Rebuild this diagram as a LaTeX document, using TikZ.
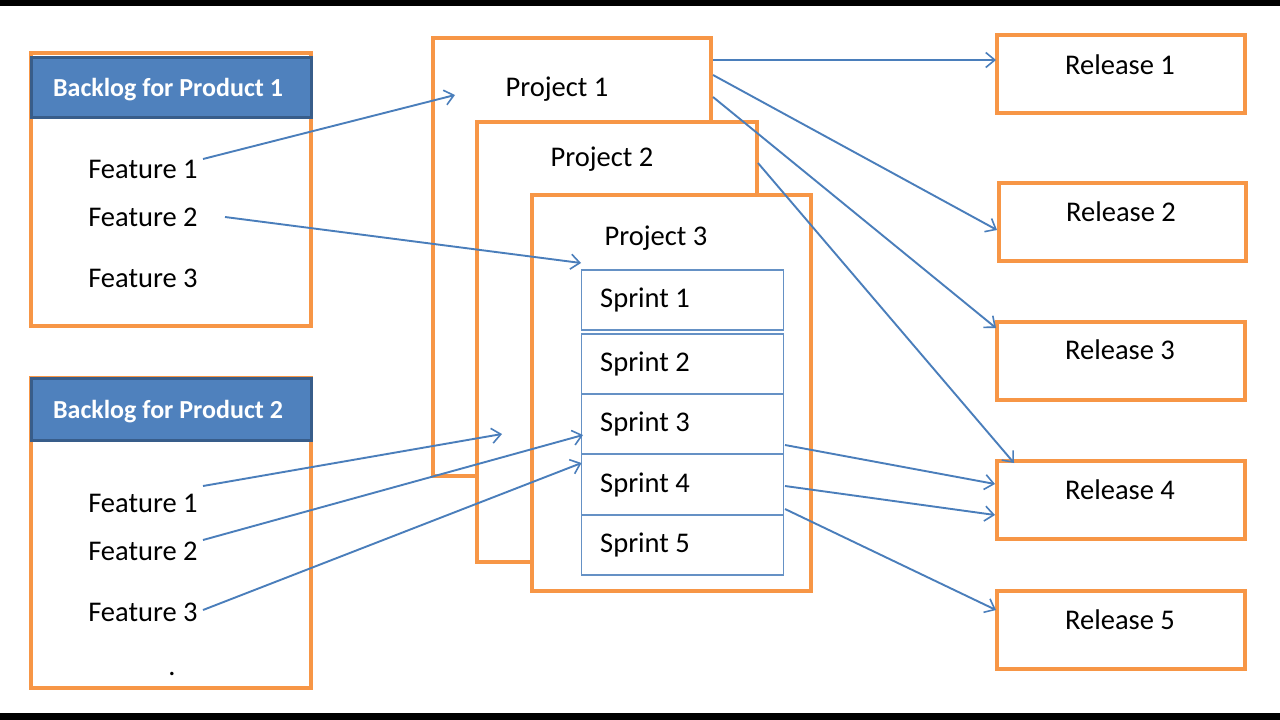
\documentclass[tikz,border=0pt]{standalone}
\usepackage{fontspec}
\setmainfont{Carlito}
\usetikzlibrary{arrows.meta}
\definecolor{orng}{HTML}{F79646}
\definecolor{blu}{HTML}{4A7EBB}
\definecolor{hdrfill}{HTML}{4F81BD}
\definecolor{hdrline}{HTML}{385D8A}
\tikzset{
  obox/.style={draw=orng, line width=4.5pt, fill=white, anchor=north west, inner sep=0pt, outer sep=0pt},
  hdr/.style={draw=hdrline, line width=3pt, fill=hdrfill, anchor=north west, inner sep=0pt, outer sep=0pt},
  sbox/.style={draw=blu!85, line width=1.3pt, fill=white, anchor=north west, inner sep=0pt, outer sep=0pt, minimum width=202pt},
  txt/.style={anchor=base, inner sep=0pt, font=\fontsize{28.5}{34}\selectfont},
  htxt/.style={anchor=base, inner sep=0pt, text=white, font=\fontsize{26}{31}\selectfont\bfseries},
  conn/.style={draw=blu, line width=1.9pt, -{Straight Barb[length=9pt,width=15pt,line width=1.6pt]}}
}
\begin{document}
\begin{tikzpicture}[x=1pt,y=-1pt]
\useasboundingbox (0,0) rectangle (1280,720);
\fill[white] (0,0) rectangle (1280,720);
\fill[black] (0,0) rectangle (1280,6);
\fill[black] (0,713) rectangle (1280,720);

% Backlog 1
\node[obox, minimum width=280pt, minimum height=273pt] (b1) at (31,53) {};
\node[hdr, minimum width=280pt, minimum height=60pt] (h1) at (31.5,57) {};
\node[htxt] (h1t) at (168,96) {Backlog for Product 1};
\node[txt] (f11) at (143,178) {Feature 1};
\node[txt] (f12) at (143,226) {Feature 2};
\node[txt] (f13) at (143,287) {Feature 3};

% Backlog 2
\node[obox, minimum width=280pt, minimum height=310pt] (b2) at (31,378) {};
\node[hdr, minimum width=280pt, minimum height=62pt] (h2) at (31.5,378) {};
\node[htxt] (h2t) at (168,418) {Backlog for Product 2};
\node[txt] (f21) at (143,512) {Feature 1};
\node[txt] (f22) at (143,560) {Feature 2};
\node[txt] (f23) at (143,621) {Feature 3};
\node[txt] (dot) at (172,675) {.};

% Projects
\node[obox, minimum width=278pt, minimum height=438pt] (p1) at (433,38) {};
\node[txt] (p1t) at (557,96) {Project 1};
\node[obox, minimum width=280pt, minimum height=440pt] (p2) at (477,122) {};
\node[txt] (p2t) at (602,166) {Project 2};
\node[obox, minimum width=279pt, minimum height=396pt] (p3) at (532,195) {};
\node[txt] (p3t) at (656,245) {Project 3};

% Sprints
\node[sbox, minimum height=60pt] (s1) at (581.5,270) {};
\node[sbox, minimum height=60pt] (s2) at (581.5,334) {};
\node[sbox, minimum height=60pt] (s3) at (581.5,394) {};
\node[sbox, minimum height=61pt] (s4) at (581.5,454) {};
\node[sbox, minimum height=60pt] (s5) at (581.5,515) {};
\node[txt, anchor=base west] (s1t) at (600,307) {Sprint 1};
\node[txt, anchor=base west] (s2t) at (600,371) {Sprint 2};
\node[txt, anchor=base west] (s3t) at (600,431) {Sprint 3};
\node[txt, anchor=base west] (s4t) at (600,492) {Sprint 4};
\node[txt, anchor=base west] (s5t) at (600,552) {Sprint 5};

% Releases
\node[obox, minimum width=248pt, minimum height=78pt] (r1) at (997,35) {};
\node[obox, minimum width=247pt, minimum height=78pt] (r2) at (999,183) {};
\node[obox, minimum width=248pt, minimum height=78pt] (r3) at (997,322) {};
\node[obox, minimum width=248pt, minimum height=78pt] (r4) at (997,461) {};
\node[obox, minimum width=248pt, minimum height=78pt] (r5) at (997,591) {};
\node[txt] (r1t) at (1120,74) {Release 1};
\node[txt] (r2t) at (1121,221) {Release 2};
\node[txt] (r3t) at (1120,359) {Release 3};
\node[txt] (r4t) at (1120,499) {Release 4};
\node[txt] (r5t) at (1120,629) {Release 5};

% Connectors: features to projects / sprints
\draw[conn] ([shift={(60,-19)}]f11.base) -- ([shift={(22,57)}]p1.north west);
\draw[conn] ([shift={(82,-9)}]f12.base) -- ([shift={(49,68)}]p3.north west);
\draw[conn] ([shift={(60,-26)}]f21.base) -- ([shift={(25,312)}]p2.north west);
\draw[conn] ([shift={(60,-20)}]f22.base) -- ([shift={(1.5,41)}]s3.north west);
\draw[conn] ([shift={(60,-11)}]f23.base) -- ([shift={(0,9)}]s4.north west);

% Connectors: projects / sprints to releases
\draw[conn] ([shift={(2,22)}]p1.north east) -- ([shift={(-1,25)}]r1.north west);
\draw[conn] ([shift={(2,37)}]p1.north east) -- ([shift={(-2,47)}]r2.north west);
\draw[conn] ([shift={(2,59)}]p1.north east) -- ([shift={(-1,6)}]r3.north west);
\draw[conn] ([shift={(1,41)}]p2.north east) -- ([shift={(17,2)}]r4.north west);
\draw[conn] ([shift={(1.5,51)}]s3.north east) -- ([shift={(-2,23)}]r4.north west);
\draw[conn] ([shift={(1.5,32)}]s4.north east) -- ([shift={(-2,54)}]r4.north west);
\draw[conn] ([shift={(1.5,-6)}]s5.north east) -- ([shift={(-1,19)}]r5.north west);
\end{tikzpicture}
\end{document}
